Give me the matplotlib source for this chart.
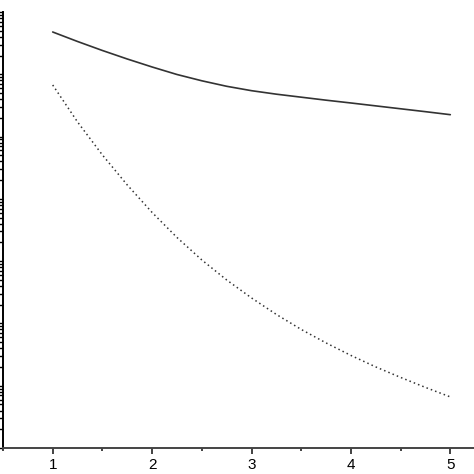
import matplotlib
matplotlib.use("Agg")
import matplotlib.pyplot as plt
from matplotlib.ticker import MultipleLocator, LogLocator, NullFormatter
import numpy as np

x = [1.0, 1.25, 1.5, 1.75, 2.0, 2.25, 2.5, 2.75, 3.0, 3.25, 3.5, 3.75, 4.0, 4.25, 4.5, 4.75, 5.0]
solid_exp = [-0.321, -0.4735, -0.618, -0.7544, -0.8828, -1.0032, -1.1043, -1.1926, -1.2632,
             -1.3194, -1.3676, -1.4157, -1.4607, -1.5072, -1.5538, -1.6003, -1.6485]
dotted_exp = [-1.1717, -1.7657, -2.2953, -2.7769, -3.2183, -3.6196, -3.9807, -4.3018, -4.5907,
              -4.8555, -5.0963, -5.3130, -5.5136, -5.6982, -5.8668, -6.0273, -6.1798]
solid = [10 ** v for v in solid_exp]
dotted = [10 ** v for v in dotted_exp]
xticks = [1, 2, 3, 4, 5]

plt.rcParams['font.family'] = ['Liberation Sans', 'DejaVu Sans']
fig = plt.figure(figsize=(4.74, 4.74), dpi=100)
ax = fig.add_axes([3 / 474, 26 / 474, 497 / 474, 436 / 474])

ax.plot(x, solid, color='#333333', lw=1.2, solid_capstyle='round', solid_joinstyle='round')
ax.plot(x, dotted, color='#333333', lw=1.1, linestyle=(0, (1, 2)))

ax.set_yscale('log')
ax.set_ylim(1e-7, 1)
ax.set_xlim(0.5, 5.5)
ax.set_xticks(xticks)
ax.set_xticklabels([str(t) for t in xticks], fontsize=11)
ax.xaxis.set_minor_locator(MultipleLocator(0.5))
ax.yaxis.set_major_locator(LogLocator(base=10, numticks=20))
ax.yaxis.set_minor_locator(LogLocator(base=10, subs=np.arange(2, 10), numticks=20))
ax.yaxis.set_minor_formatter(NullFormatter())
ax.tick_params(axis='y', which='both', labelleft=False, direction='out', length=3, width=1.0, color='black')
ax.tick_params(axis='x', which='major', direction='out', length=4, width=1.2, color='#222222', pad=3)
ax.tick_params(axis='x', which='minor', direction='out', length=2.5, width=1.2, color='#222222')

for s in ['top', 'right']:
    ax.spines[s].set_visible(False)
ax.spines['left'].set_linewidth(1.4)
ax.spines['left'].set_color('black')
ax.spines['bottom'].set_linewidth(1.4)
ax.spines['bottom'].set_color('#444444')

fig.savefig('out.png', dpi=100)
